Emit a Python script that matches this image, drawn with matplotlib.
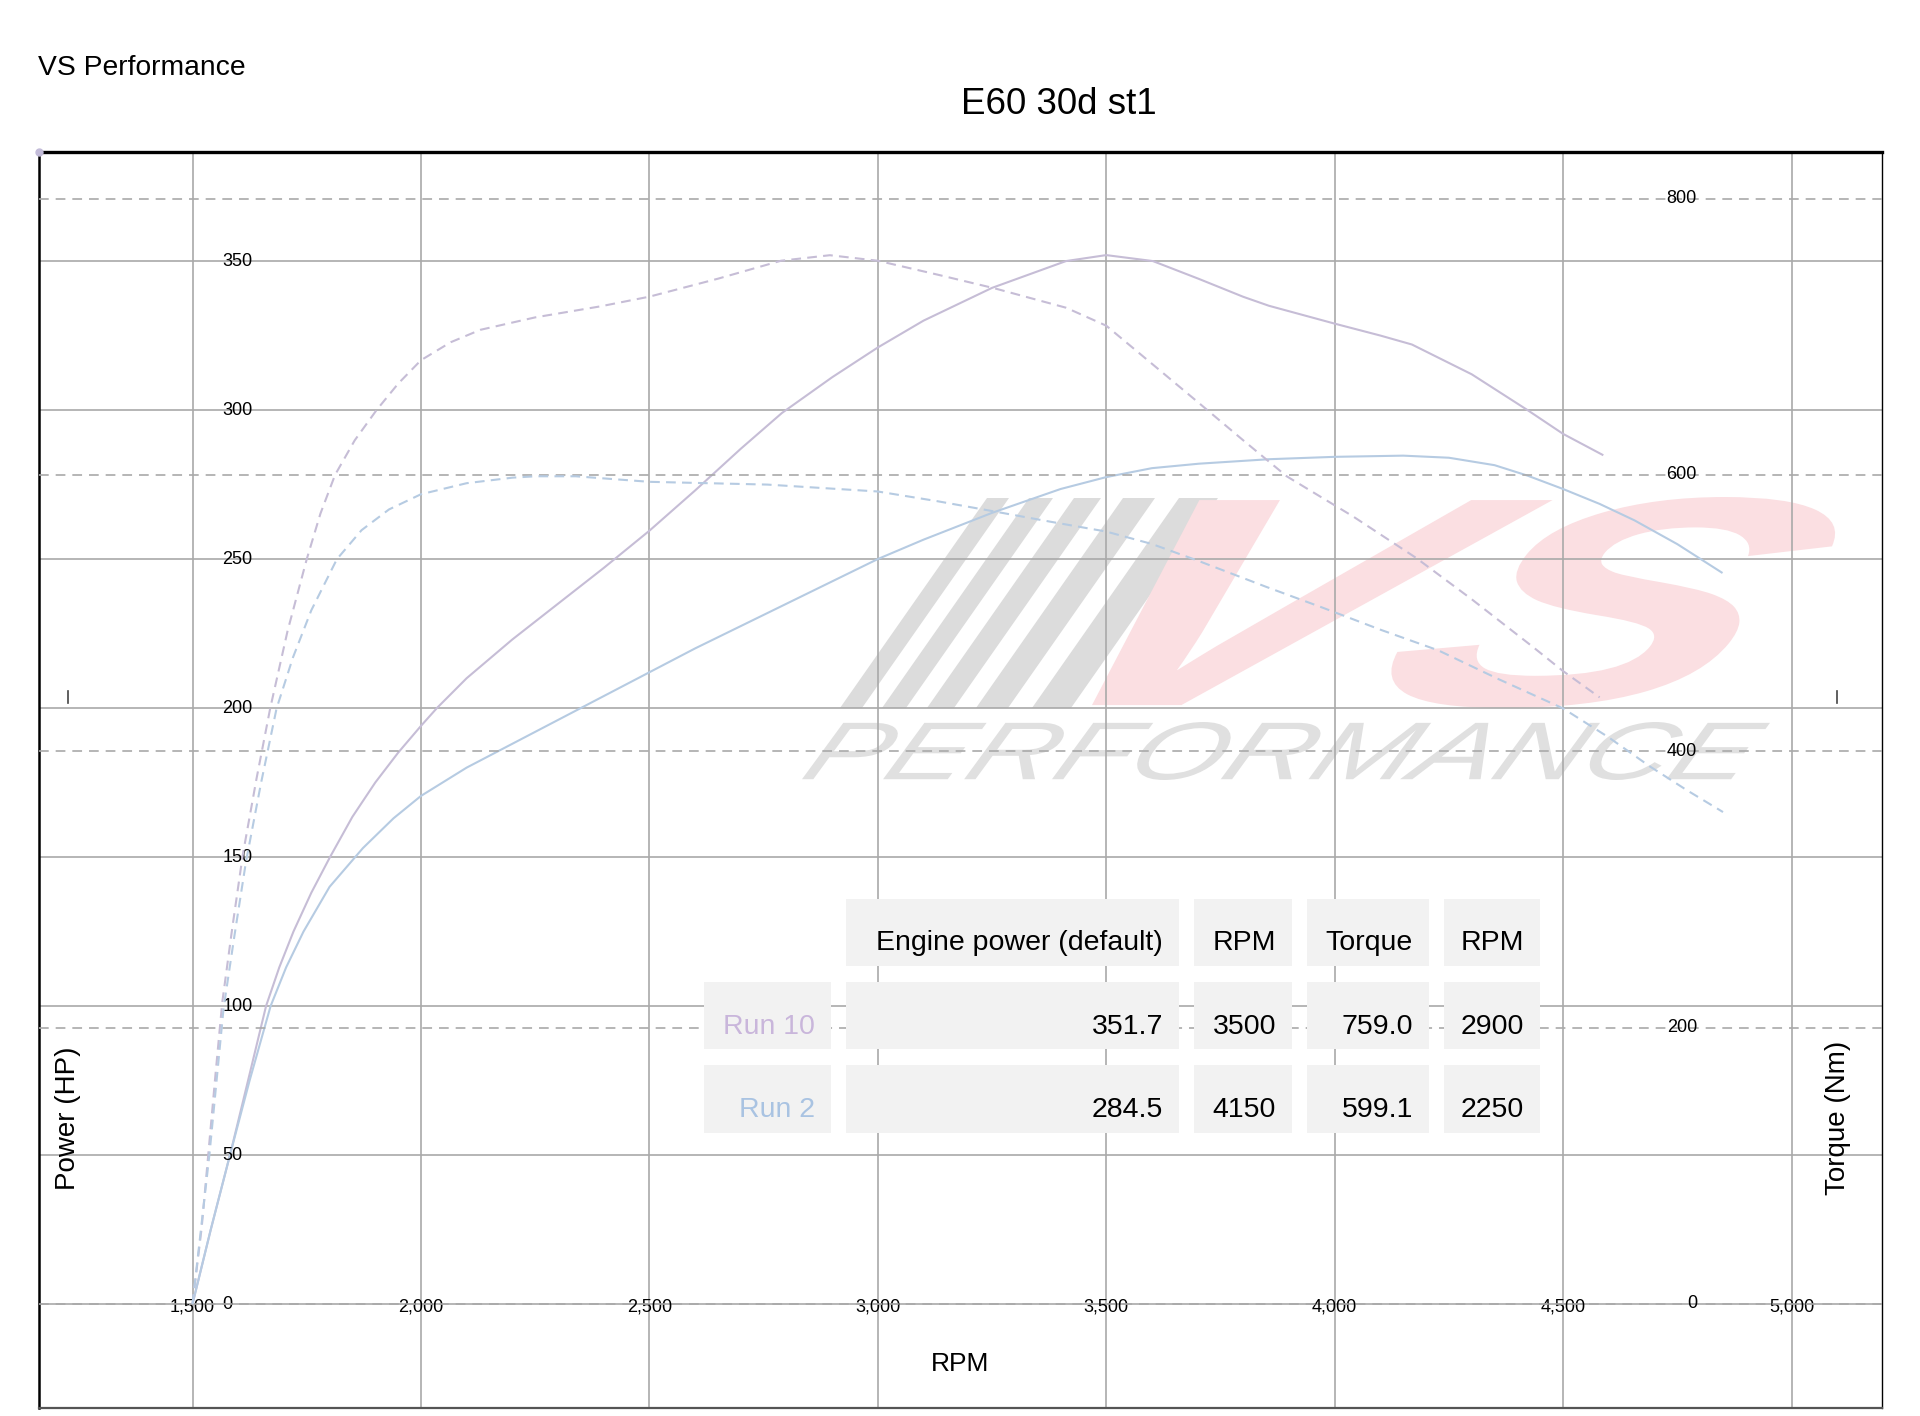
import numpy as np
import matplotlib
matplotlib.use('Agg')
import matplotlib.pyplot as plt
from matplotlib.textpath import TextPath
from matplotlib.patches import PathPatch, Polygon, Rectangle
from matplotlib.path import Path
from matplotlib.font_manager import FontProperties

plt.rcParams['font.family'] = ['Liberation Sans', 'DejaVu Sans']
plt.rcParams['lines.scale_dashes'] = False

# --- data ---
rpm_ticks = [1500, 2000, 2500, 3000, 3500, 4000, 4500, 5000]
hp_ticks = [0, 50, 100, 150, 200, 250, 300, 350]
nm_ticks = [0, 200, 400, 600, 800]

# Run 10 power (HP)
run10_rpm_p = [1500, 1540, 1582, 1620, 1661, 1690, 1721, 1760, 1801, 1850, 1900, 1950,
               2000, 2035, 2100, 2200, 2300, 2400, 2500, 2600, 2700, 2790, 2900, 3000,
               3100, 3250, 3412, 3500, 3602, 3703, 3800, 3856, 4000, 4100, 4169, 4300,
               4422, 4500, 4586]
run10_hp = [0, 25, 50, 74, 100, 113, 125, 138, 150, 163.5, 175, 185,
            194, 200, 210, 223, 235, 247, 259.5, 273, 287, 299, 311, 321,
            330, 341, 350, 352, 350, 344, 338, 335, 329, 325, 322, 312,
            300, 292, 285]

# Run 2 power (HP)
run2_rpm_p = [1500, 1540, 1582, 1625, 1671, 1705, 1743, 1800, 1873, 1940, 2000, 2100,
              2200, 2300, 2400, 2500, 2600, 2700, 2800, 2900, 3000, 3100, 3250, 3400,
              3500, 3600, 3703, 3856, 4000, 4150, 4250, 4350, 4422, 4500, 4580, 4656,
              4750, 4847]
run2_hp = [0, 25, 50, 75, 100, 113, 125, 140, 153, 163, 170.5, 180,
           188, 196, 204, 212, 220, 227.5, 235, 242.5, 250, 256.5, 265.5, 273.5,
           277.5, 280.5, 282, 283.5, 284.3, 284.7, 284, 281.5, 278, 273.5, 268.5, 263,
           255, 245.5]

# Run 10 torque (Nm)
run10_rpm_t = [1500, 1520, 1535, 1550, 1565, 1587, 1610, 1640, 1670, 1708, 1750, 1780,
               1812, 1855, 1903, 1950, 2000, 2065, 2130, 2250, 2393, 2500, 2650, 2788,
               2895, 3000, 3130, 3256, 3412, 3500, 3598, 3703, 3800, 3895, 4040, 4178,
               4300, 4432, 4500, 4580]
run10_nm = [0, 55, 110, 165, 218, 272, 325, 380, 431, 487, 539, 572,
            600, 625, 647, 666, 683, 696, 705, 714, 722, 729, 742, 755,
            759, 755, 745, 735, 721, 708, 681, 652, 625, 599, 570, 540,
            510, 476, 458, 439]

# Run 2 torque (Nm)
run2_rpm_t = [1500, 1537, 1568, 1592, 1617, 1650, 1684, 1720, 1760, 1816, 1870, 1930,
              2000, 2100, 2200, 2250, 2339, 2500, 2758, 3000, 3130, 3256, 3380, 3500,
              3600, 3700, 3850, 3973, 4100, 4227, 4360, 4500, 4600, 4690, 4770, 4850]
run2_nm = [0, 108, 214, 267, 320, 377, 431, 468, 502, 539, 560, 575,
           586, 594, 598, 599, 599, 595, 593, 588, 581, 573.5, 566, 559,
           550, 538, 519, 504, 488, 473, 452, 431, 410, 389, 372, 356]

# summary table
table_header = ['Engine power (default)', 'RPM', 'Torque', 'RPM']
run_names = ['Run 10', 'Run 2']
peak_power = ['351.7', '284.5']
peak_power_rpm = ['3500', '4150']
peak_torque = ['759.0', '599.1']
peak_torque_rpm = ['2900', '2250']

c_run10 = '#c6bdd6'
c_run2 = '#b6cbe2'
c_lab10 = '#c9b6db'
c_lab2 = '#a9c3e2'
grid_c = '#a9a9a9'

W, H = 1920, 1416
fig = plt.figure(figsize=(W / 100, H / 100), dpi=100)
fig.patch.set_facecolor('white')


def fx(x):
    return x / W


def fy(y):
    return 1 - y / H


# --- watermark (drawn behind the axes) ---
def text_watermark(s, prop, box, color, skew=0.0):
    tp = TextPath((0, 0), s, size=100, prop=prop)
    v = tp.vertices.copy()
    v[:, 0] = v[:, 0] + skew * v[:, 1]
    real = tp.codes != Path.CLOSEPOLY
    xmin, xmax = v[real, 0].min(), v[real, 0].max()
    ymin, ymax = v[real, 1].min(), v[real, 1].max()
    x0, y0, x1, y1 = box
    px = x0 + (v[:, 0] - xmin) * (x1 - x0) / (xmax - xmin)
    py = y1 - (v[:, 1] - ymin) * (y1 - y0) / (ymax - ymin)
    path = Path(np.column_stack([fx(px), fy(py)]), tp.codes)
    fig.add_artist(PathPatch(path, transform=fig.transFigure, fc=color, ec='none', zorder=-2))


stripe_tops = [(987, 1009), (1029, 1053), (1074, 1101), (1123, 1155), (1179, 1218)]
for a, b in stripe_tops:
    pts = [(a, 498), (b, 498), (b - 147, 708), (a - 147, 708)]
    fig.add_artist(Polygon([(fx(p), fy(q)) for p, q in pts], closed=True,
                           transform=fig.transFigure, fc='#dcdcdc', ec='none', zorder=-2))

text_watermark('VS', FontProperties(family='Liberation Sans', weight='bold', style='italic'),
               (1092, 497, 1843, 708), '#fbdfe2', skew=0.45)
text_watermark('PERFORMANCE', FontProperties(family='Liberation Sans', style='italic'),
               (802, 722, 1770, 780), '#e0e0e0', skew=0.3)

# --- axes ---
ax = fig.add_axes([fx(39), fy(1408), 1843 / W, 1256 / H])
ax.patch.set_visible(False)
ax.set_xlim(1164, 5198)
ax.set_ylim(-34.9, 386.6)
ax2 = ax.twinx()
ax2.set_ylim(-75.3, 833.7)

ax.set_xticks(rpm_ticks)
ax.set_yticks(hp_ticks)
ax.grid(True, color=grid_c, lw=1.2)
ax.tick_params(length=0, labelbottom=False, labelleft=False)
ax2.set_yticks(nm_ticks)
ax2.grid(True, axis='y', color=grid_c, lw=1.2, linestyle=(0, (7, 5)))
ax2.tick_params(length=0, labelright=False)
ax.set_axisbelow(True)
ax2.set_axisbelow(True)

for sp in ax2.spines.values():
    sp.set_visible(False)
ax.spines['top'].set_linewidth(2.4)
ax.spines['left'].set_linewidth(1.8)
ax.spines['right'].set_linewidth(1.0)
ax.spines['bottom'].set_linewidth(1.6)
ax.spines['bottom'].set_color('#555555')
for k in ['top', 'left', 'right']:
    ax.spines[k].set_color('black')

# curves
ax.plot(run10_rpm_p, run10_hp, color=c_run10, lw=1.5, zorder=3)
ax.plot(run2_rpm_p, run2_hp, color=c_run2, lw=1.5, zorder=3)
ax2.plot(run10_rpm_t, run10_nm, color=c_run10, lw=1.5, dashes=(7, 4.5), zorder=3)
ax2.plot(run2_rpm_t, run2_nm, color=c_run2, lw=1.5, dashes=(7, 4.5), zorder=3)

# small marker at top-left corner
ax.plot([0], [1], 'o', ms=5, color='#c3bcd9', transform=ax.transAxes, clip_on=False, zorder=4)

# tick labels drawn inside the plot
for t in hp_ticks:
    ax.text(1565, t, str(t), fontsize=13, ha='left', va='center', color='black')
for t in nm_ticks:
    ax2.text(4793, t, str(t), fontsize=13, ha='right', va='center', color='black')
for t in rpm_ticks:
    ax.text(t, -1, f'{t:,}', fontsize=13, ha='center', va='center', color='black')

# axis labels
ax.text(0.4997, 0.035, 'RPM', transform=ax.transAxes, fontsize=19, ha='center', va='center')
ax.text(0.0158, 0.231, 'Power (HP)', transform=ax.transAxes, fontsize=20, rotation=90,
        ha='center', va='center')
ax.text(0.9762, 0.231, 'Torque (Nm)', transform=ax.transAxes, fontsize=20, rotation=90,
        ha='center', va='center')
for xa in [0.0157, 0.9756]:
    ax.plot([xa, xa], [0.5610, 0.5705], color='#444444', lw=1.2, transform=ax.transAxes,
            clip_on=False)

# titles
fig.text(fx(38), fy(68), 'VS Performance', fontsize=20.3, ha='left', va='center')
fig.text(fx(1059), fy(104), 'E60 30d st1', fontsize=26.5, ha='center', va='center')

# --- summary table ---
cols = [(846, 1179), (1194, 1292), (1307, 1429), (1444, 1540)]
label_col = (704, 831)
rows = [(899, 966), (982, 1049), (1065, 1133)]
cell_bg = '#f2f2f2'


def cell(x0, x1, y0, y1, txt, color='black'):
    fig.add_artist(Rectangle((fx(x0), fy(y1)), (x1 - x0) / W, (y1 - y0) / H,
                             transform=fig.transFigure, fc=cell_bg, ec='none', zorder=5))
    fig.text(fx(x1 - 16), fy((y0 + y1) / 2 + 11), txt, fontsize=20.5, ha='right', va='center',
             color=color, zorder=6)


for (x0, x1), txt in zip(cols, table_header):
    cell(x0, x1, rows[0][0], rows[0][1], txt)

run_colors = [c_lab10, c_lab2]
for i, name in enumerate(run_names):
    y0, y1 = rows[i + 1]
    cell(label_col[0], label_col[1], y0, y1, name, run_colors[i])
    vals = [peak_power[i], peak_power_rpm[i], peak_torque[i], peak_torque_rpm[i]]
    for (x0, x1), v in zip(cols, vals):
        cell(x0, x1, y0, y1, v)

fig.savefig('out.png', dpi=100)
